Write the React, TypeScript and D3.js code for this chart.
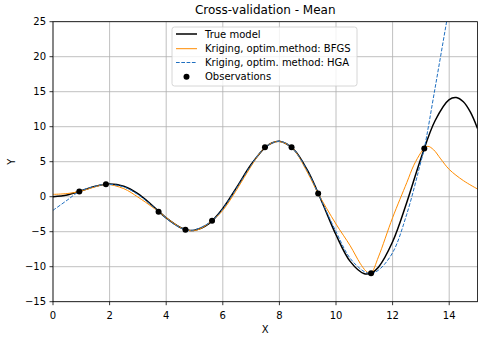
import React from "react";
import * as d3 from "d3";

const trueX = [0, 0.5, 1, 1.5, 2, 2.5, 3, 3.5, 4, 4.5, 4.75, 5, 5.5, 6, 6.5, 7, 7.5, 7.75, 8, 8.5, 9, 9.5, 10, 10.5, 11, 11.25, 11.5, 12, 12.5, 13, 13.5, 14, 14.25, 14.5, 14.75, 15];
const trueY = [0, 0.24, 0.841, 1.496, 1.819, 1.496, 0.423, -1.228, -3.027, -4.399, -4.747, -4.795, -3.88, -1.676, 1.398, 4.599, 7.035, 7.707, 7.915, 6.787, 3.709, -0.714, -5.44, -9.237, -11.0, -10.894, -10.067, -6.439, -0.829, 5.463, 10.851, 13.868, 14.16, 13.556, 12.07, 9.754];

const bfgsX = [0, 0.5, 0.93, 1.5, 1.87, 2.5, 3, 3.5, 3.73, 4.25, 4.68, 5.1, 5.62, 6, 6.5, 7, 7.49, 7.95, 8.43, 9, 9.37, 10, 10.5, 10.85, 11.05, 11.15, 11.24, 11.5, 12, 12.5, 12.75, 13.0, 13.12, 13.25, 13.45, 13.7, 14, 14.5, 15];
const bfgsY = [0.33, 0.45, 0.74, 1.42, 1.77, 1.15, -0.05, -1.45, -2.14, -3.75, -4.72, -4.75, -3.43, -1.95, 1.05, 4.35, 7.06, 7.88, 7.06, 3.4, 0.45, -3.9, -7.0, -9.5, -10.6, -10.9, -10.95, -8.6, -3.0, 2.0, 4.5, 6.3, 6.9, 7.2, 6.7, 5.4, 3.9, 2.3, 1.1];

const hgaX = [0, 0.5, 0.93, 1.5, 1.87, 2.5, 3, 3.5, 3.73, 4.25, 4.68, 5, 5.62, 6, 6.5, 7, 7.49, 8, 8.43, 9, 9.37, 10, 10.5, 11, 11.24, 11.5, 12, 12.5, 13, 13.12, 13.5, 13.9, 14.3];
const hgaY = [-1.95, -0.5, 0.74, 1.5, 1.77, 1.4, 0.3, -1.3, -2.14, -3.85, -4.72, -4.75, -3.43, -1.75, 1.3, 4.5, 7.06, 7.9, 7.06, 3.6, 0.45, -5.0, -8.8, -10.7, -10.95, -10.5, -8.0, -2.5, 5.0, 6.9, 15.5, 24.8, 34];

const obsX = [0.93, 1.87, 3.73, 4.68, 5.62, 7.49, 8.43, 9.37, 11.24, 13.12];
const obsY = [0.74, 1.77, -2.14, -4.72, -3.43, 7.06, 7.06, 0.45, -10.95, 6.9];

const xTicks = [0, 2, 4, 6, 8, 10, 12, 14];
const yTicks = [-15, -10, -5, 0, 5, 10, 15, 20, 25];

const legendLabels = [
  "True model",
  "Kriging, optim.method: BFGS",
  "Kriging, optim. method: HGA",
  "Observations",
];

const W = 500, H = 341;
const L = 53, R = 477.5, T = 21.7, B = 301.7;
const FONT = "DejaVu Sans, sans-serif";

export default function App() {
  const x = d3.scaleLinear().domain([0, 15]).range([L, R]);
  const y = d3.scaleLinear().domain([-15, 25]).range([B, T]);
  const mk = (xs: number[], ys: number[]) =>
    d3.line<number>()
      .x((_, i) => x(xs[i]))
      .y((_, i) => y(ys[i]))
      .curve(d3.curveCatmullRom.alpha(0.5))(xs.map((v) => v)) || "";

  const legendRows = [34, 48.7, 62.5, 76.7];
  return (
    <svg width={W} height={H} style={{ position: "absolute", left: 0, top: 0, background: "#fff" }} fontFamily={FONT}>
      <defs>
        <clipPath id="plotclip">
          <rect x={L} y={T} width={R - L} height={B - T} />
        </clipPath>
      </defs>
      {xTicks.map((t) => (
        <line key={"gx" + t} x1={x(t)} x2={x(t)} y1={T} y2={B} stroke="#b0b0b0" strokeWidth={0.8} />
      ))}
      {yTicks.map((t) => (
        <line key={"gy" + t} x1={L} x2={R} y1={y(t)} y2={y(t)} stroke="#b0b0b0" strokeWidth={0.8} />
      ))}
      <g clipPath="url(#plotclip)">
        <path d={mk(trueX, trueY)} fill="none" stroke="#000" strokeWidth={1.5} />
        <path d={mk(bfgsX, bfgsY)} fill="none" stroke="#ff8c00" strokeWidth={1} />
        <path d={mk(hgaX, hgaY)} fill="none" stroke="#1f6fc0" strokeWidth={1} strokeDasharray="3.7 1.6" />
        {obsX.map((v, i) => (
          <circle key={"o" + i} cx={x(v)} cy={y(obsY[i])} r={3} fill="#000" />
        ))}
      </g>
      <rect x={L} y={T} width={R - L} height={B - T} fill="none" stroke="#000" strokeWidth={0.8} />
      {xTicks.map((t) => (
        <g key={"xt" + t}>
          <line x1={x(t)} x2={x(t)} y1={B} y2={B + 3.5} stroke="#000" strokeWidth={0.8} />
          <text x={x(t)} y={B + 17} fontSize={10} textAnchor="middle" fill="#000">{t}</text>
        </g>
      ))}
      {yTicks.map((t) => (
        <g key={"yt" + t}>
          <line x1={L - 3.5} x2={L} y1={y(t)} y2={y(t)} stroke="#000" strokeWidth={0.8} />
          <text x={L - 7} y={y(t) + 3.6} fontSize={10} textAnchor="end" fill="#000">{t < 0 ? "\u2212" + Math.abs(t) : t}</text>
        </g>
      ))}
      <text x={(L + R) / 2} y={14} fontSize={12} textAnchor="middle" fill="#000">Cross-validation - Mean</text>
      <text x={(L + R) / 2} y={333} fontSize={10} textAnchor="middle" fill="#000">X</text>
      <text transform={`translate(14.5, ${(T + B) / 2}) rotate(-90)`} fontSize={10} textAnchor="middle" fill="#000">Y</text>
      <rect x={172} y={27} width={185} height={59} rx={2.5} fill="#fff" fillOpacity={0.8} stroke="#cccccc" strokeWidth={0.8} />
      <line x1={176} x2={197} y1={legendRows[0]} y2={legendRows[0]} stroke="#000" strokeWidth={1.5} />
      <line x1={176} x2={197} y1={legendRows[1]} y2={legendRows[1]} stroke="#ff8c00" strokeWidth={1} />
      <line x1={176} x2={197} y1={legendRows[2]} y2={legendRows[2]} stroke="#1f6fc0" strokeWidth={1} strokeDasharray="3.7 1.6" />
      <circle cx={186.5} cy={legendRows[3]} r={3} fill="#000" />
      {legendLabels.map((lab, i) => (
        <text key={lab} x={205} y={legendRows[i] + 3.6} fontSize={10} fill="#000">{lab}</text>
      ))}
    </svg>
  );
}
